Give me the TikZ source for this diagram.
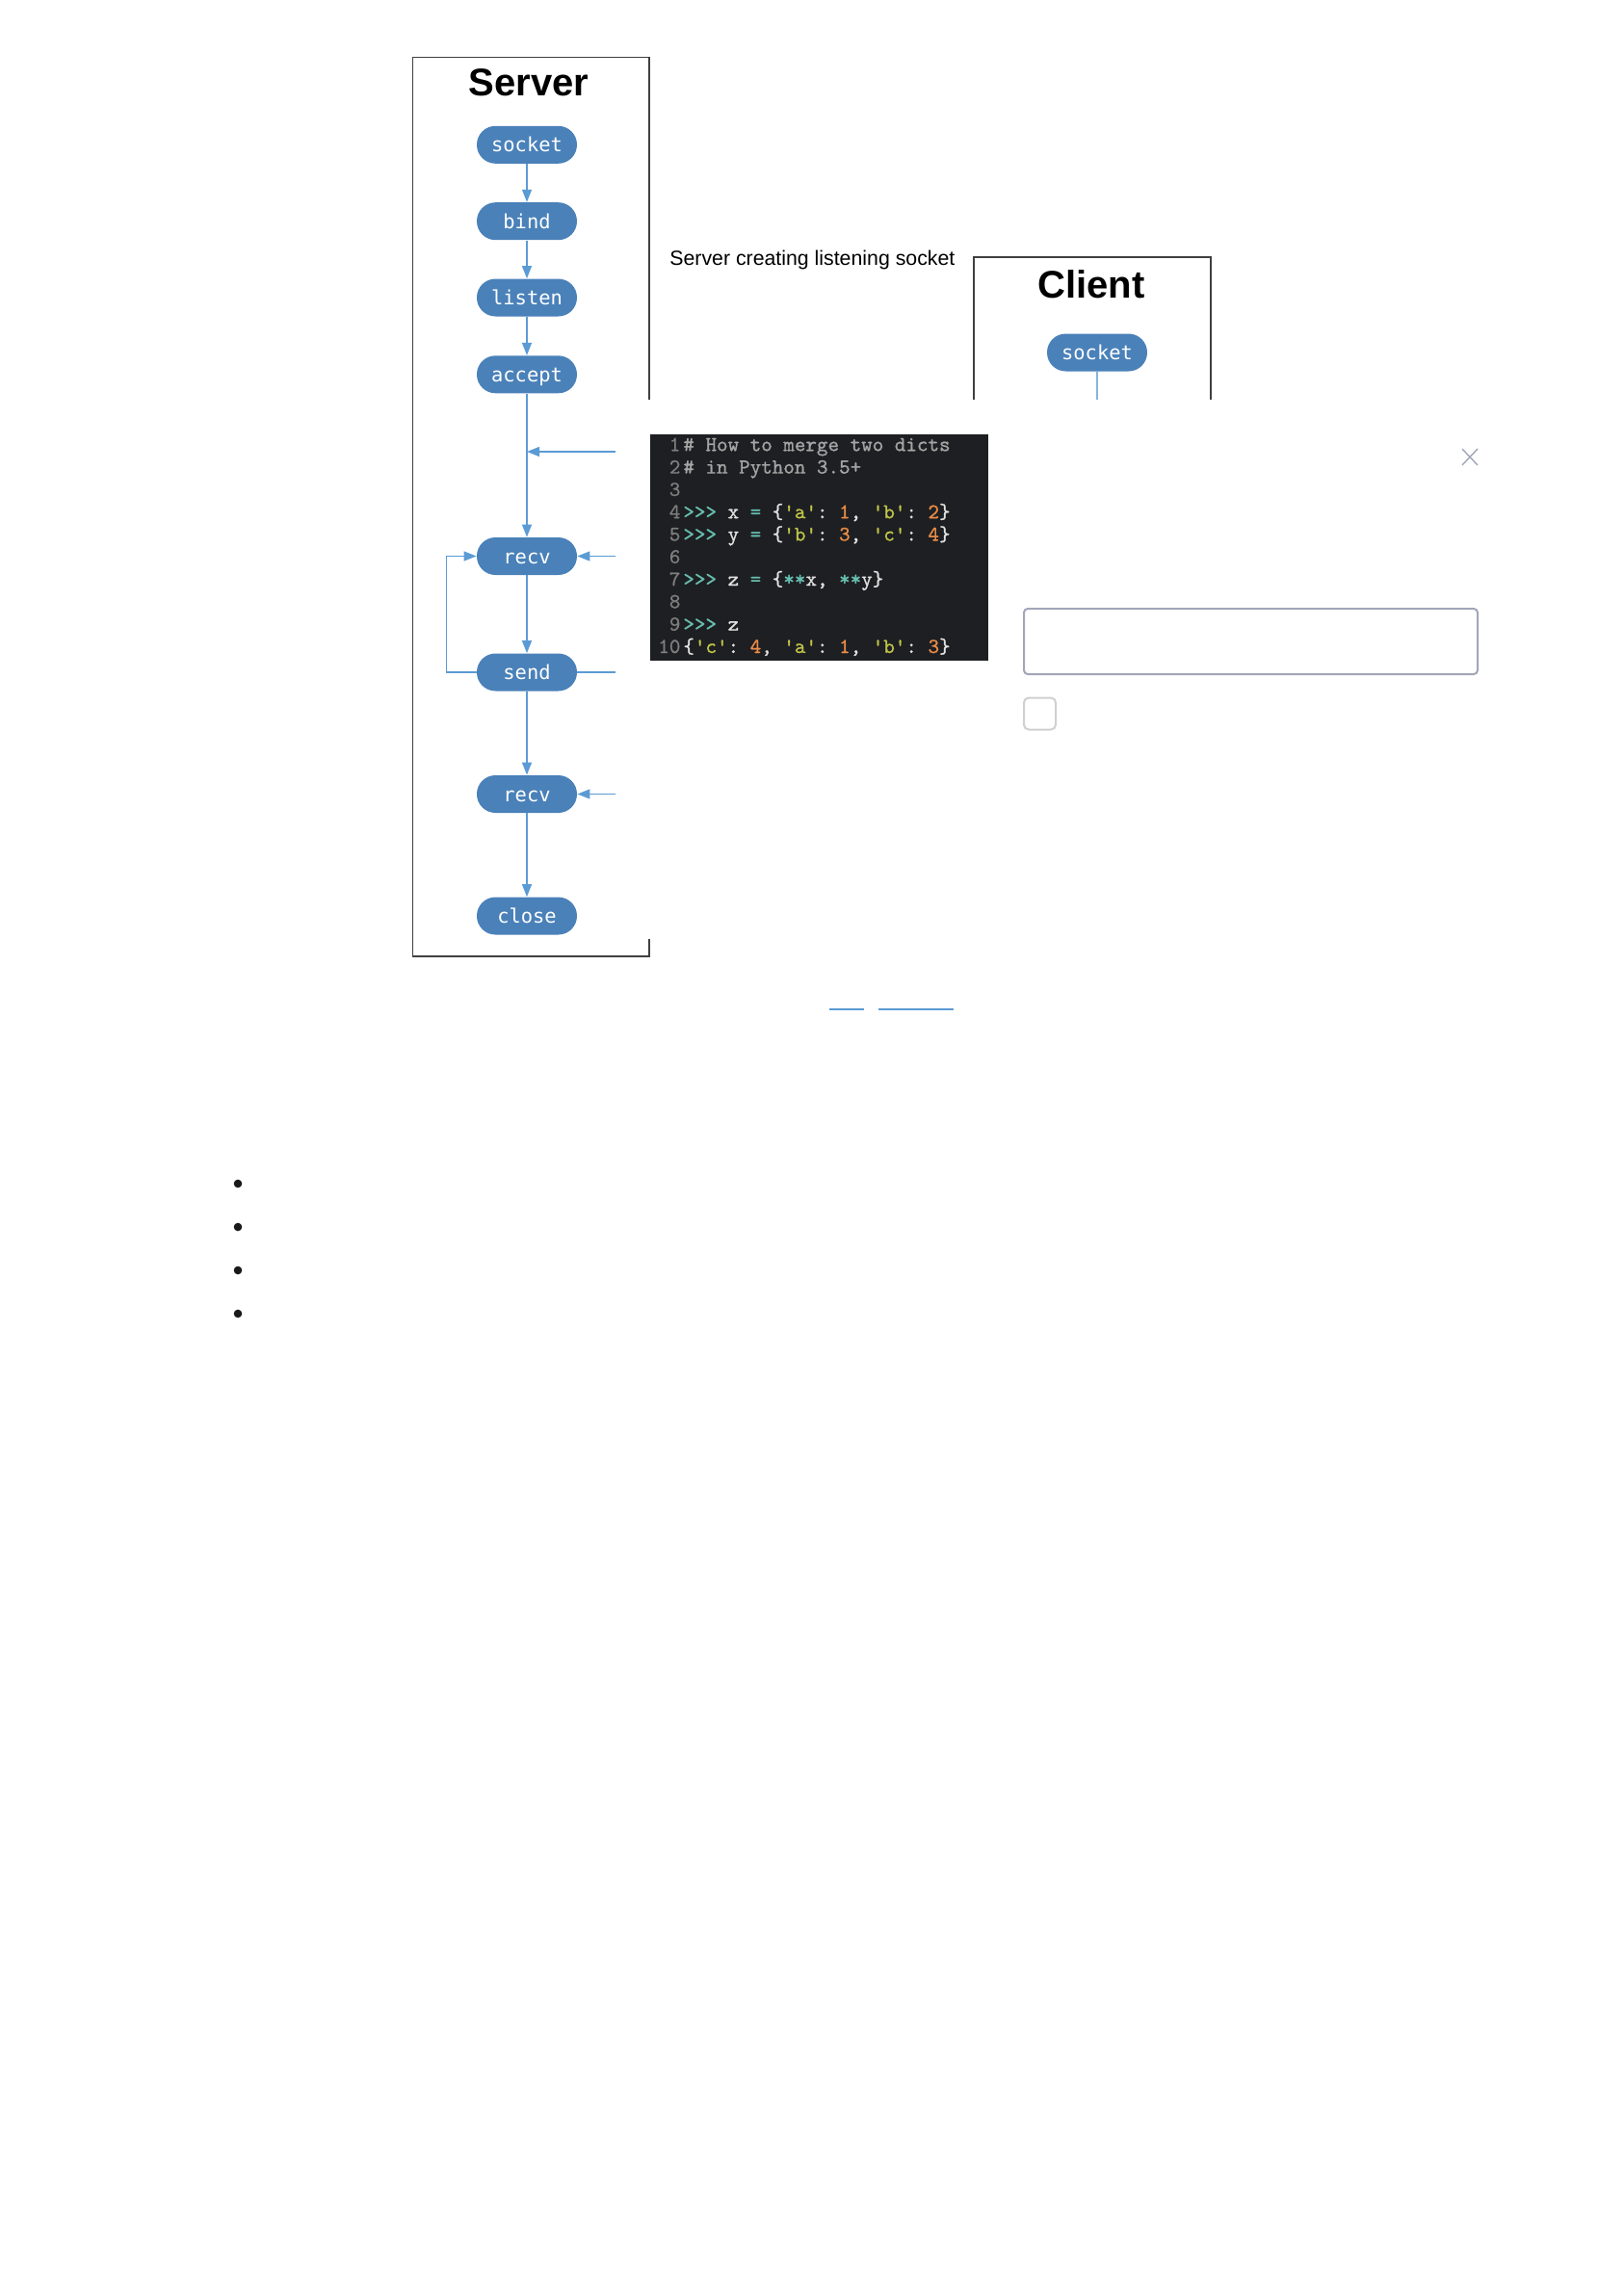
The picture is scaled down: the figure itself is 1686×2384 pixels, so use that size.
\documentclass[tikz,border=0pt]{standalone}
\usepackage{fontspec}
\setmainfont{Liberation Sans}
\newfontfamily\nodefont{DejaVu Sans Mono}
\newfontfamily\codefont{Latin Modern Mono}[FakeBold=0.9]
\usetikzlibrary{arrows.meta}

\definecolor{nodeblue}{RGB}{74,129,185}
\definecolor{lineblue}{RGB}{91,155,213}
\definecolor{framegray}{RGB}{64,64,64}
\definecolor{codebg}{RGB}{30,31,34}
\definecolor{codenum}{RGB}{125,125,125}
\definecolor{codecmt}{RGB}{165,165,165}
\definecolor{codeprm}{RGB}{102,190,175}
\definecolor{codetxt}{RGB}{225,225,225}
\definecolor{codestr}{RGB}{190,196,72}
\definecolor{codeint}{RGB}{232,140,72}
\definecolor{uigray}{RGB}{162,166,184}
\definecolor{boxgray}{RGB}{208,208,208}

% 代码着色的小宏
\newcommand{\sq}{\char39\relax}
\newcommand{\cP}[1]{\textcolor{codeprm}{#1}}
\newcommand{\cS}[1]{\textcolor{codestr}{\sq#1\sq}}
\newcommand{\cN}[1]{\textcolor{codeint}{#1}}
\newcommand{\lno}[1]{\makebox[14pt][r]{\textcolor{codenum}{#1}}\hspace{1.5pt}}

\begin{document}
\begin{tikzpicture}[x=0.5pt, y=-0.5pt]
    % --- 样式定义 ---
    \tikzstyle{fnode}=[fill=nodeblue, text=white, rounded corners=9.7pt, minimum width=52pt, minimum height=19.5pt, inner sep=0pt, text height=7.6pt, text depth=0pt, font=\nodefont\fontsize{10.2}{12}\selectfont]
    \tikzstyle{flow}=[-{Triangle[length=6.5pt,width=5pt]}, lineblue, line width=0.65pt]
    \tikzstyle{wire}=[lineblue, line width=0.65pt]
    \tikzstyle{boxline}=[framegray, line width=0.9pt]
    \tikzstyle{headtext}=[font=\fontsize{20}{24}\selectfont\bfseries]
    \tikzstyle{codeline}=[anchor=base west, inner sep=0pt, text=codetxt, font=\codefont\fontsize{11}{13}\selectfont\frenchspacing]

    % 页面
    \fill[white] (0,0) rectangle (1686,2384);
    \useasboundingbox (0,0) rectangle (1686,2384);

    % ====== Server 一栏 ======
    \draw[boxline] (674.3,415) -- (674.3,59.5) -- (428.5,59.5) -- (428.5,992.7) -- (674.3,992.7) -- (674.3,975);
    \node[headtext] (srv) at (549,85.5) {Server};

    \node[fnode] (sock) at (547,150.3) {socket};
    \node[fnode] (bind) at (547,229.7) {bind};
    \node[fnode] (lstn) at (547,309) {listen};
    \node[fnode] (acpt) at (547,388.8) {accept};
    \node[fnode] (recvA) at (547,577.5) {recv};
    \node[fnode] (send) at (547,698) {send};
    \node[fnode] (recvB) at (547,824.5) {recv};
    \node[fnode] (clos) at (547,951) {close};

    % 主流程
    \draw[flow] (sock) -- (bind);
    \draw[flow] (bind) -- (lstn);
    \draw[flow] (lstn) -- (acpt);
    \draw[flow] (acpt) -- (recvA);
    \draw[flow] (recvA) -- (send);
    \draw[flow] (send) -- (recvB);
    \draw[flow] (recvB) -- (clos);

    % 右侧进出的线
    \coordinate (inA) at (639,469);
    \coordinate (joinA) at (547,469);
    \coordinate (inB) at (639,577.5);
    \coordinate (outS) at (639,698);
    \coordinate (inC) at (639,824.5);
    \draw[flow] (inA) -- (joinA);
    \draw[flow] (inB) -- (recvA.east);
    \draw[wire] (send.east) -- (outS);
    \draw[flow] (inC) -- (recvB.east);
    % 回环
    \draw[flow] (send.west) -- ++(-31,0) |- (recvA.west);

    % ====== 说明文字 ======
    \node[anchor=base west, inner sep=0pt, font=\fontsize{10.65}{12}\selectfont] (cap) at (695,275) {Server creating listening socket};

    % ====== Client 一栏 (被截断) ======
    \draw[boxline] (1011,415) -- (1011,267.3) -- (1257,267.3) -- (1257,415);
    \node[headtext] (cli) at (1133,295) {Client};
    \node[fnode] (csock) at (1139,366) {socket};
    \coordinate (ccut) at (1139,415);
    \draw[wire, lineblue!75] (csock) -- (ccut);

    % ====== 代码块 ======
    \fill[codebg] (675,451) rectangle (1026,686);
    \node[codeline] (l1) at (678,468.3) {\lno{1}\textcolor{codecmt}{\# How to merge two dicts}};
    \node[codeline] (l2) at (678,491.6) {\lno{2}\textcolor{codecmt}{\# in Python 3.5+}};
    \node[codeline] (l3) at (678,514.9) {\lno{3}};
    \node[codeline] (l4) at (678,538.2) {\lno{4}\cP{>>>} x \cP{=} \{\cS{a}: \cN{1}, \cS{b}: \cN{2}\}};
    \node[codeline] (l5) at (678,561.5) {\lno{5}\cP{>>>} y \cP{=} \{\cS{b}: \cN{3}, \cS{c}: \cN{4}\}};
    \node[codeline] (l6) at (678,584.8) {\lno{6}};
    \node[codeline] (l7) at (678,608.1) {\lno{7}\cP{>>>} z \cP{=} \{\cP{**}x, \cP{**}y\}};
    \node[codeline] (l8) at (678,631.4) {\lno{8}};
    \node[codeline] (l9) at (678,654.7) {\lno{9}\cP{>>>} z};
    \node[codeline] (l10) at (678,678) {\lno{10}\{\cS{c}: \cN{4}, \cS{a}: \cN{1}, \cS{b}: \cN{3}\}};

    % ====== 右边的表单 ======
    \draw[uigray, line width=0.7pt] (1518,466) -- (1534,483) (1518,483) -- (1534,466);
    \draw[uigray, line width=1pt, rounded corners=2pt] (1063,632) rectangle (1534,700);
    \draw[boxgray, line width=1pt, rounded corners=2.5pt] (1063,724.5) rectangle (1096,757.5);

    % 下方两段蓝线
    \draw[wire] (861,1048) -- (897,1048);
    \draw[wire] (912,1048) -- (990,1048);

    % 列表圆点
    \foreach \y in {1229,1274,1319,1364}
        \fill[black!90] (247,\y) circle (2.15pt);

\end{tikzpicture}
\end{document}
